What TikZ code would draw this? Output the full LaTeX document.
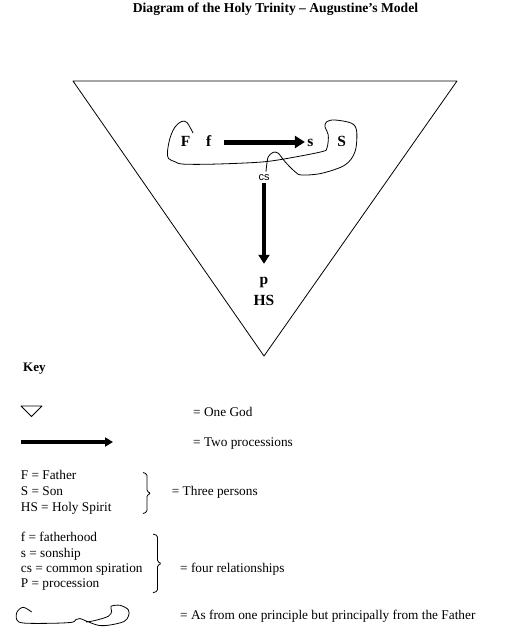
\documentclass[tikz,border=0pt]{standalone}
\usepackage{fontspec}
\setmainfont{Liberation Serif}
\newfontfamily\arialf{Liberation Sans}
\usetikzlibrary{arrows.meta}
\begin{document}
\begin{tikzpicture}[x=1pt,y=-1pt,
  thinline/.style={line width=0.8pt, line join=round},
  letter/.style={font=\bfseries\fontsize{15.5}{19}\selectfont, inner sep=0pt, text height=8pt, text depth=0pt, anchor=base},
  keytext/.style={font=\fontsize{13.3}{16}\selectfont, inner sep=0pt, anchor=base west},
  procarrow/.style={line width=5pt, -{Triangle[length=10pt,width=12pt]}},
  keyarrow/.style={line width=3.5pt, -{Triangle[length=8pt,width=9pt]}},
  bracepath/.style={line width=0.8pt, rounded corners=1.5pt}]
\useasboundingbox (0,0) rectangle (530,638);

% title
\node[font=\bfseries\fontsize{13.6}{16}\selectfont, anchor=base, inner sep=0pt] (title) at (275.5,12.7) {Diagram of the Holy Trinity – Augustine’s Model};

% main triangle (One God)
\draw[thinline] (73,81) -- (457,81) -- (264,356) -- cycle;

% persons and relations
\node[letter] (F) at (185.5,146) {F};
\node[letter] (f) at (208.8,146) {f};
\node[letter] (s) at (310.5,146) {s};
\node[letter] (S) at (341.7,146) {S};
\node[font=\arialf\fontsize{11}{13}\selectfont, inner sep=0pt, text height=6pt, text depth=0pt, anchor=base] (cs) at (264,180.7) {cs};
\node[letter] (p) at (264,284) {p};
\node[letter] (HS) at (264,305.7) {HS};

% processions
\draw[procarrow, shorten <=12.5pt, shorten >=2.4pt] (f.east) -- (s.west);
\draw[procarrow, line width=4.5pt, -{Triangle[length=9pt,width=11pt]}, shorten <=2.5pt, shorten >=12pt] (cs.south) -- (cs.south |- p.north);

% loop: as from one principle
\draw[thinline] plot[smooth, tension=0.55] coordinates {
 (193,133) (187,122.5) (181.5,121.5) (175,127) (170,138) (167.5,151.5)
 (168.5,158.5) (175,161.7) (182,164) (205,164.3) (238,163.3) (265,161.7)
 (288,158.3) (321.7,151.7) (327,148) (328.3,135) (325,126.7) (326.7,121.7)
 (335,120) (351.7,123.3) (356.7,131.7) (355,151.7) (345,165) (321.7,173.3)
 (301.7,175) (295,171.7) (285,161.7) (278.3,153.3) (273.3,152.3)
 (268.3,156.7) (266.7,165) (266,171.7)};

% key
\node[font=\bfseries\fontsize{13}{15}\selectfont, inner sep=0pt, anchor=base west] (key) at (23,371.7) {Key};

\draw[thinline] (21,406) -- (42,406) -- (31.5,416.5) -- cycle;
\node[keytext] (k1) at (193,416) {= One God};

\coordinate (ka) at (21,442);
\coordinate (kb) at (113,442);
\draw[keyarrow] (ka) -- (kb);
\node[keytext] (k2) at (193,446.5) {= Two processions};

\node[keytext] (l1) at (20.7,479.3) {F = Father};
\node[keytext] (l2) at (20.7,495) {S = Son};
\node[keytext] (l3) at (20.7,511) {HS = Holy Spirit};
\draw[bracepath] (143,472.5) -- (147,474) -- (147,491.5) -- (151,493.3) -- (147,495) -- (147,512) -- (143,513.5);
\node[keytext] (k3) at (171.7,495) {= Three persons};

\node[keytext] (m1) at (20.7,541.7) {f = fatherhood};
\node[keytext] (m2) at (20.7,557.3) {s = sonship};
\node[keytext] (m3) at (20.7,572.7) {cs = common spiration};
\node[keytext] (m4) at (20.7,587.7) {P = procession};
\draw[bracepath] (153,534) -- (157.5,535.5) -- (157.5,561.8) -- (161.7,563.5) -- (157.5,565.2) -- (157.5,591.2) -- (153,592.7);
\node[keytext] (k4) at (180,572.7) {= four relationships};

\draw[thinline] plot[smooth, tension=0.55] coordinates {
 (31.7,612) (23.3,607.3) (17,612) (16.8,619.7) (23.3,623) (50,623.3)
 (71.7,622.3) (76,619.5) (80,618.5) (85,620.5) (98.3,625.3) (110,625)
 (124,621.5) (128.5,616) (128.3,609.7) (120,605.3) (111,606.3) (111.7,611.3)
 (108.3,616.3) (95,620.5) (86,622)};
\node[keytext] (k5) at (180,619) {= As from one principle but principally from the Father};
\end{tikzpicture}
\end{document}
